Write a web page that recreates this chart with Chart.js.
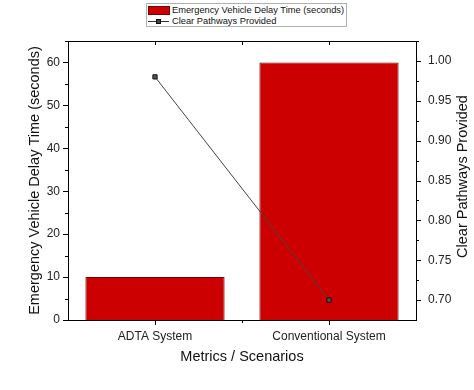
<!DOCTYPE html>
<html>
<head>
<meta charset="utf-8">
<script src="https://cdn.jsdelivr.net/npm/chart.js@4.4.1/dist/chart.umd.min.js"></script>
<style>
    html, body { margin: 0; padding: 0; background: #fff; }
    #wrap { position: relative; width: 474px; height: 390px; font-family: 'Liberation Sans', Arial, sans-serif; }
    #legend {
        position: absolute; left: 146px; top: 3px; width: 201px; height: 24px;
        border: 1px solid #b0b0b0; box-sizing: border-box; background: #fff;
        font-size: 9.3px; color: #111; line-height: 11px;
    }
    .row { position: absolute; left: 1px; height: 11px; white-space: nowrap; }
    .row span.txt { position: absolute; left: 24px; top: 0; }
    .swatch { position: absolute; left: 0; top: 1px; width: 22px; height: 9px; background: #cc0000; border: 1px solid #7a0000; box-sizing: border-box; }
    .lineicon { position: absolute; left: 0; top: 5px; width: 21px; height: 1px; background: #333; }
    .marker { position: absolute; left: 8px; top: 3px; width: 5px; height: 5px; background: #444; border: 1px solid #111; box-sizing: border-box; }
</style>
</head>
<body>
<div id="wrap">
    <canvas id="chart" width="474" height="390"></canvas>
    <div id="legend">
        <div class="row" style="top:1px"><div class="swatch"></div><span class="txt">Emergency Vehicle Delay Time (seconds)</span></div>
        <div class="row" style="top:12px"><div class="lineicon"></div><div class="marker"></div><span class="txt">Clear Pathways Provided</span></div>
    </div>
</div>
<script>
const categories = ['ADTA System', 'Conventional System']
const delayTimes = [10, 60]
const clearPathways = [0.98, 0.70]
const delayTicks = [0, 10, 20, 30, 40, 50, 60]
const pathwayTicks = [0.70, 0.75, 0.80, 0.85, 0.90, 0.95, 1.00]
const rightTitle = 'Clear Pathways Provided'

const fontFamily = "'Liberation Sans', Arial, sans-serif"

// box around the plot plus Origin-style major/minor ticks
const frameTicks = {
    id: 'frameTicks',
    afterDraw(chart) {
        const ctx = chart.ctx
        const a = chart.chartArea
        const x = chart.scales.x
        const y = chart.scales.y
        const y1 = chart.scales.y1
        ctx.save()
        ctx.strokeStyle = '#000'
        ctx.lineWidth = 1
        ctx.strokeRect(Math.round(a.left) + 0.5, Math.round(a.top) + 0.5, Math.round(a.right - a.left), Math.round(a.bottom - a.top))
        ctx.beginPath()
        // left axis
        for (let v = 0; v <= 65; v += 5) {
            const py = Math.round(y.getPixelForValue(v)) + 0.5
            const len = v % 10 === 0 ? 5 : 3
            ctx.moveTo(a.left, py); ctx.lineTo(a.left - len, py)
        }
        // right axis
        for (let i = 0; i <= 13; i++) {
            const v = 0.70 + i * 0.025
            const py = Math.round(y1.getPixelForValue(v)) + 0.5
            const len = i % 2 === 0 ? 5 : 3
            ctx.moveTo(a.right, py); ctx.lineTo(a.right + len, py)
        }
        // bottom and top axes
        for (let i = 0; i < categories.length; i++) {
            const px = Math.round(x.getPixelForValue(i)) + 0.5
            ctx.moveTo(px, a.bottom); ctx.lineTo(px, a.bottom + 5)
            ctx.moveTo(px, a.top); ctx.lineTo(px, a.top + 4)
        }
        for (let i = 0; i < categories.length - 1; i++) {
            const px = Math.round(x.getPixelForValue(i + 0.5)) + 0.5
            ctx.moveTo(px, a.bottom); ctx.lineTo(px, a.bottom + 3)
            ctx.moveTo(px, a.top); ctx.lineTo(px, a.top + 4)
        }
        ctx.stroke()

        // right title reads bottom-to-top like the left one
        ctx.fillStyle = '#111'
        ctx.font = '14.5px ' + fontFamily
        ctx.textAlign = 'center'
        ctx.textBaseline = 'middle'
        ctx.translate(y1.right - 11, (a.top + a.bottom) / 2 - 4)
        ctx.rotate(-Math.PI / 2)
        ctx.fillText(rightTitle, 0, 0)
        ctx.restore()
    }
}

const ctx = document.getElementById('chart').getContext('2d')
new Chart(ctx, {
    data: {
        labels: categories,
        datasets: [
            {
                type: 'line',
                label: 'Clear Pathways Provided',
                data: clearPathways,
                yAxisID: 'y1',
                borderColor: '#444',
                borderWidth: 1,
                pointStyle: 'rect',
                pointRadius: 3,
                pointBackgroundColor: '#555',
                pointBorderColor: '#111',
                pointBorderWidth: 1,
                order: 0,
            },
            {
                type: 'bar',
                label: 'Emergency Vehicle Delay Time (seconds)',
                data: delayTimes,
                yAxisID: 'y',
                backgroundColor: '#cc0000',
                borderColor: '#7a0000',
                borderWidth: 1,
                barPercentage: 0.8,
                categoryPercentage: 1.0,
                order: 1,
            },
        ],
    },
    options: {
        responsive: false,
        animation: false,
        layout: { padding: { top: 41, left: 0, right: 0, bottom: 0 } },
        plugins: {
            legend: { display: false },
            tooltip: { enabled: false },
        },
        scales: {
            x: {
                offset: true,
                grid: { display: false, drawTicks: false },
                border: { display: false },
                ticks: { color: '#222', font: { family: fontFamily, size: 12 }, padding: 9, maxRotation: 0 },
                title: {
                    display: true,
                    text: 'Metrics / Scenarios',
                    color: '#111',
                    font: { family: fontFamily, size: 14.5 },
                    padding: { top: 0, bottom: 24 },
                },
                afterFit(scale) { scale.height = 70 },
            },
            y: {
                position: 'left',
                min: 0,
                max: 65,
                grid: { display: false, drawTicks: false },
                border: { display: false },
                afterBuildTicks(scale) { scale.ticks = delayTicks.map(v => ({ value: v })) },
                ticks: { color: '#222', font: { family: fontFamily, size: 12 }, padding: 8 },
                title: {
                    display: true,
                    text: 'Emergency Vehicle Delay Time (seconds)',
                    color: '#111',
                    font: { family: fontFamily, size: 14.5 },
                    padding: { top: 26, bottom: 0 },
                },
                afterFit(scale) { scale.width = 68 },
            },
            y1: {
                position: 'right',
                min: 0.675,
                max: 1.025,
                grid: { display: false, drawTicks: false },
                border: { display: false },
                afterBuildTicks(scale) { scale.ticks = pathwayTicks.map(v => ({ value: v })) },
                ticks: {
                    color: '#222',
                    font: { family: fontFamily, size: 12 },
                    padding: 12,
                    callback: v => Number(v).toFixed(2),
                },
                afterFit(scale) { scale.width = 58 },
            },
        },
    },
    plugins: [frameTicks],
})
</script>
</body>
</html>
